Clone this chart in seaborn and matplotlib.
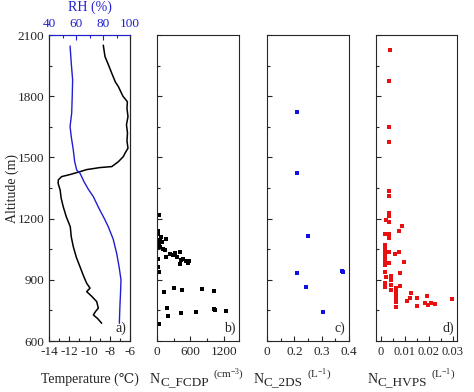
import numpy as np
import pandas as pd
import matplotlib
matplotlib.use("Agg")
import matplotlib.pyplot as plt
import seaborn as sns
from matplotlib.ticker import MultipleLocator, FixedLocator

# temperature profile (altitude m, temperature C)
temp_alt = [2050, 1994, 1950, 1912, 1870, 1847, 1800, 1773, 1740, 1700, 1660, 1620,
            1580, 1545, 1520, 1504, 1479, 1455, 1450, 1440, 1430, 1415, 1406, 1390,
            1373, 1340, 1300, 1259, 1210, 1160, 1110, 1062, 1010, 964, 920, 883,
            859, 842, 820, 793, 761, 745, 728, 710, 687]
temp_val = [-8.64, -8.47, -8.1, -7.8, -7.45, -7.15, -6.7, -6.26, -6.3, -6.2, -6.35, -6.25,
            -6.3, -6.2, -6.5, -6.66, -7.15, -7.8, -9.0, -10.3, -10.94, -12.0, -12.75, -13.08,
            -13.1, -12.9, -12.8, -12.6, -12.3, -11.9, -11.8, -11.6, -11.3, -10.94, -10.6, -10.28,
            -9.95, -10.28, -9.8, -9.29, -9.13, -9.4, -9.62, -9.2, -8.8]

# relative humidity profile
rh_alt = [2046, 1960, 1880, 1800, 1718, 1651, 1600, 1536, 1480, 1438, 1422, 1380,
          1344, 1308, 1250, 1200, 1160, 1100, 1030, 960, 900, 840, 785, 730, 687]
rh_val = [55.6, 56.5, 57.5, 57.2, 56.8, 55.6, 56.5, 58.0, 59.0, 60.5, 63.0, 66.0,
          69.1, 72.8, 77.0, 81.0, 83.9, 87.5, 90.1, 92.0, 93.3, 93.0, 92.6, 92.3, 92.1]

# FCDP number concentration (cm-3)
fcdp_x = [31, 10, 79, 157, 55, 97, 10, 108, 139, 20, 157, 229, 288, 331, 360, 409,
          439, 470, 421, 529, 576, 558, 18, 40, 15, 40, 60,
          121, 301, 457, 799, 1021, 180, 198, 439, 697, 1021, 1039, 1231, 30]
fcdp_alt = [1218, 1124, 1111, 1100, 1095, 1087, 1079, 1050, 1046, 1004, 1010, 1026,
            1022, 1033, 1013, 1038, 997, 1000, 977, 992, 994, 984, 961, 940, 1140, 1070, 1060,
            840, 858, 850, 855, 845, 760, 724, 736, 741, 755, 750, 748, 683]

# 2DS number concentration (L-1)
ds_x = [0.209, 0.209, 0.251, 0.209, 0.376, 0.378, 0.243, 0.306]
ds_alt = [1724, 1422, 1116, 935, 943, 938, 866, 744]

# HVPS number concentration (L-1)
hv_x = [0.0037, 0.0035, 0.0035, 0.0035, 0.0035, 0.0035, 0.0035, 0.0035, 0.0035, 0.0019,
        0.0076, 0.0089, 0.0018, 0.0035, 0.0035, 0.0035,
        0.0018, 0.0018, 0.0018, 0.0018, 0.0018, 0.0018, 0.0018, 0.0035, 0.0057, 0.0075,
        0.0035, 0.0097, 0.0018, 0.0019, 0.004, 0.004, 0.0079, 0.0018, 0.0018, 0.004, 0.004,
        0.0079, 0.0063, 0.0063, 0.0063, 0.0063, 0.0063, 0.0063, 0.0124, 0.0121, 0.0107,
        0.0149, 0.0149, 0.019, 0.0183, 0.0197, 0.0208, 0.0225, 0.0295]
hv_alt = [2026, 1876, 1651, 1574, 1337, 1311, 1226, 1213, 1185, 1193,
          1141, 1164, 1125, 1125, 1115, 1105,
          1071, 1054, 1038, 1022, 1005, 989, 973, 1038, 1025, 1038,
          981, 986, 940, 915, 918, 900, 932, 883, 863, 875, 851,
          870, 858, 842, 826, 809, 793, 768, 834, 809, 798,
          812, 772, 821, 785, 777, 788, 780, 805]

BLUE = "#1f1fd0"
FS = 10      # axis labels
TFS = 9.5    # tick labels
LABEL_Y = -0.148

sns.set_style("ticks")
plt.rcParams["font.family"] = ["Liberation Serif", "DejaVu Serif"]
plt.rcParams["mathtext.fontset"] = "custom"
plt.rcParams["mathtext.rm"] = "Liberation Serif"
plt.rcParams["mathtext.it"] = "Liberation Serif:italic"
plt.rcParams["font.size"] = FS
plt.rcParams["axes.unicode_minus"] = False
plt.rcParams["xtick.direction"] = "in"
plt.rcParams["ytick.direction"] = "in"
plt.rcParams["axes.linewidth"] = 0.8


def unit_label(ax, x0, name, unit):
    # "N" + lowered "C_xxx" + small raised unit, like the original figure
    t1 = ax.text(x0, LABEL_Y, "N", transform=ax.transAxes, fontsize=FS,
                 ha="left", va="bottom")
    t2 = ax.annotate(name, xy=(1, 0), xycoords=t1, xytext=(0.3, -1.5),
                     textcoords="offset points", fontsize=FS - 0.5, va="bottom")
    ax.annotate(unit, xy=(1, 0), xycoords=t2, xytext=(3, 4),
                textcoords="offset points", fontsize=FS - 2, va="bottom")


fig = plt.figure(figsize=(4.74, 3.92), dpi=100)
bottom, height = 0.1301, 0.7806
axa = fig.add_axes([0.1034, bottom, 0.1709, height])
axb = fig.add_axes([0.3312, bottom, 0.1730, height])
axc = fig.add_axes([0.5633, bottom, 0.1730, height])
axd = fig.add_axes([0.7932, bottom, 0.1709, height])

temp_df = pd.DataFrame({"alt": temp_alt, "T": temp_val})
rh_df = pd.DataFrame({"alt": rh_alt, "RH": rh_val})

sns.lineplot(data=temp_df, x="T", y="alt", sort=False, estimator=None,
             color="black", linewidth=1.1, ax=axa)
axa.set_xlim(-14, -6)
axa.xaxis.set_major_locator(MultipleLocator(2))
axa.xaxis.set_minor_locator(MultipleLocator(1))
axa.set_xlabel("")
axa.text(0.5, LABEL_Y, "Temperature (\u2103)", transform=axa.transAxes,
         ha="center", va="bottom", fontsize=FS)
axa.set_ylabel("Altitude (m)", fontsize=FS)
axa.yaxis.set_label_coords(-0.37, 0.5)

top = axa.twiny()
sns.lineplot(data=rh_df, x="RH", y="alt", sort=False, estimator=None,
             color=BLUE, linewidth=1.0, ax=top)
top.set_xlim(40, 100)
top.xaxis.set_major_locator(MultipleLocator(20))
top.xaxis.set_minor_locator(MultipleLocator(10))
top.set_xlabel("RH (%)", color=BLUE, labelpad=5, fontsize=FS)
top.set_ylabel("")

fc = pd.DataFrame({"x": fcdp_x, "alt": fcdp_alt})
sns.scatterplot(data=fc, x="x", y="alt", marker="s", s=9, color="black",
                linewidth=0, ax=axb)
axb.set_xlim(0, 1470)
axb.xaxis.set_major_locator(FixedLocator([0, 600, 1200]))
axb.xaxis.set_minor_locator(FixedLocator([300, 900]))
unit_label(axb, -0.09, "C_FCDP", r"(cm$^{-3}$)")

dd = pd.DataFrame({"x": ds_x, "alt": ds_alt})
sns.scatterplot(data=dd, x="x", y="alt", marker="s", s=9, color="#1010e0",
                linewidth=0, ax=axc)
axc.set_xlim(0.1, 0.4)
axc.set_xticks([0.1, 0.2, 0.3, 0.4])
axc.set_xticklabels(["0", "0.2", "0.3", "0.4"])
axc.xaxis.set_minor_locator(FixedLocator([0.15, 0.25, 0.35]))
unit_label(axc, -0.17, "C_2DS", r"(L$^{-1}$)")

hd = pd.DataFrame({"x": hv_x, "alt": hv_alt})
sns.scatterplot(data=hd, x="x", y="alt", marker="s", s=9, color="#e81010",
                linewidth=0, ax=axd)
axd.set_xlim(-0.0021, 0.0317)
axd.set_xticks([0, 0.01, 0.02, 0.03])
axd.set_xticklabels(["0", "0.01", "0.02", "0.03"])
axd.xaxis.set_minor_locator(FixedLocator([0.005, 0.015, 0.025]))
unit_label(axd, -0.11, "C_HVPS", r"(L$^{-1}$)")

for ax, lab in zip([axa, axb, axc, axd], ["a)", "b)", "c)", "d)"]):
    ax.set_ylim(600, 2100)
    ax.yaxis.set_major_locator(MultipleLocator(300))
    ax.yaxis.set_minor_locator(MultipleLocator(150))
    ax.tick_params(which="major", length=3.5, width=0.8, labelsize=TFS)
    ax.tick_params(which="minor", length=2, width=0.8)
    ax.tick_params(axis="x", top=False, which="both")
    ax.tick_params(axis="y", right=False, which="both")
    for s in ax.spines.values():
        s.set_visible(True)
    ax.text(0.96, 0.02, lab, transform=ax.transAxes, ha="right", va="bottom", fontsize=FS)
    if ax is not axa:
        ax.set_xlabel("")
        ax.set_ylabel("")
        ax.set_yticklabels([])

axd.tick_params(axis="x", labelsize=TFS - 0.5)

top.tick_params(axis="x", which="major", length=3.5, width=0.8, labelsize=TFS,
                colors=BLUE, direction="in")
top.tick_params(axis="x", which="minor", length=2, width=0.8, colors=BLUE, direction="in")
for s in top.spines.values():
    s.set_visible(True)
top.spines["top"].set_color(BLUE)

fig.savefig("out.png", dpi=100)
